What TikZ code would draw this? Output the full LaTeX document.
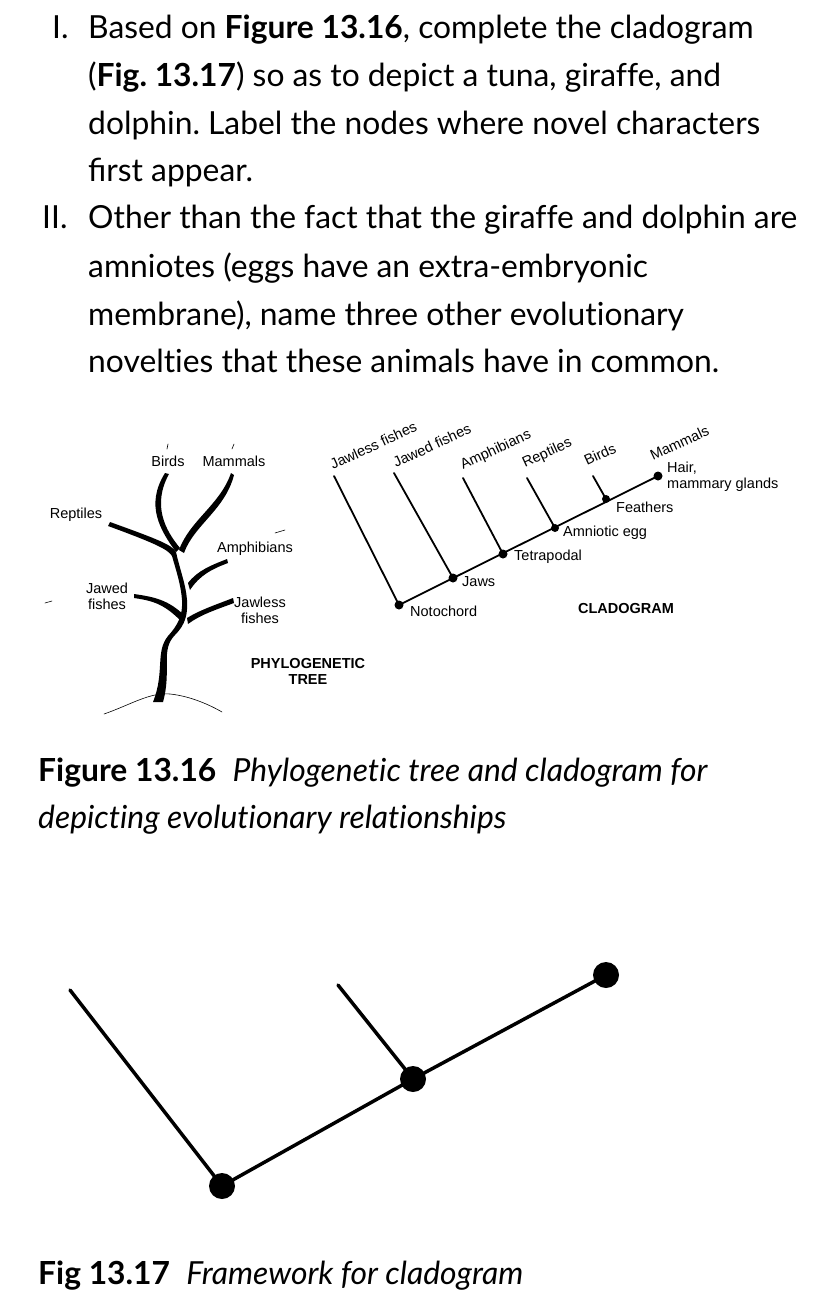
\documentclass[tikz,border=0pt]{standalone}
\usepackage{fontspec}
\setmainfont{Lato}[RawFeature={-liga}]
\newfontfamily\arial{Liberation Sans}
\frenchspacing
\begin{document}
\begin{tikzpicture}[x=1pt,y=-1pt,
  body/.style={anchor=base west,inner sep=0pt,font=\fontsize{31.8}{36}\selectfont},
  lab/.style={inner sep=0pt,font=\arial\fontsize{14.5}{16}\selectfont,align=center},
  rlab/.style={lab,anchor=base west,rotate=25},
  branch/.style={line width=1.8pt,line cap=round},
  dot/.style={circle,fill=black,inner sep=0pt,minimum size=#1},
  fwline/.style={line width=3.5pt,line cap=round},
  bark/.style={line cap=round,line join=round}]
\useasboundingbox (0,0) rectangle (813,1293);
% question text
\node[body] (n1) at (52,38) {I.};
\node[body] (t1) at (88,38) {Based on \textbf{Figure 13.16}, complete the cladogram};
\node[body] (t2) at (88,86) {(\textbf{Fig. 13.17}) so as to depict a tuna, giraffe, and};
\node[body] (t3) at (88,134) {dolphin. Label the nodes where novel characters};
\node[body] (t4) at (88,181) {{\addfontfeatures{RawFeature=+liga}fi}rst appear.};
\node[body] (n2) at (42,228) {II.};
\node[body] (t5) at (88,228) {Other than the fact that the giraffe and dolphin are};
\node[body] (t6) at (88,277) {amniotes (eggs have an extra-embryonic};
\node[body] (t7) at (88,325) {membrane), name three other evolutionary};
\node[body] (t8) at (88,372) {novelties that these animals have in common.};
% phylogenetic tree
\begin{scope}[bark]
\fill (163,702) .. controls (172,670) and (160,650) .. (175,635) .. controls (185,625) and (188,615) .. (187,600)
  .. controls (186,585) and (180,570) .. (176,552) .. controls (172,545) and (160,540) .. (110,522)
  -- (108,526) .. controls (160,545) and (168,550) .. (172,556) .. controls (176,570) and (181,585) .. (182,600)
  .. controls (183,615) and (178,625) .. (168,636) .. controls (155,652) and (165,672) .. (153,702) -- cycle;
\fill (176,552) .. controls (160,530) and (145,505) .. (165,473) -- (169,474) .. controls (152,505) and (165,530) .. (180,548) -- cycle;
\fill (179,550) .. controls (190,520) and (220,505) .. (231,473) -- (234,475) .. controls (225,510) and (194,525) .. (184,553) -- cycle;
\fill (188,583) .. controls (198,570) and (212,565) .. (227,559) -- (228,563) .. controls (212,569) and (200,575) .. (190,590) -- cycle;
\fill (184,615) .. controls (168,600) and (155,597) .. (134,594) -- (134,598) .. controls (155,601) and (165,605) .. (182,622) -- cycle;
\fill (187,618) .. controls (200,610) and (215,605) .. (233,598) -- (234,603) .. controls (215,610) and (200,615) .. (188,624) -- cycle;
\draw[line width=0.6pt] (104,714) .. controls (130,705) and (150,692) .. (170,694) .. controls (190,696) and (210,705) .. (222,712);
\draw[line width=0.6pt] (168,444) -- (167,449) (234,444) -- (232,449) (275,533) -- (285,530) (45,603) -- (52,601);
\end{scope}
\node[lab] (tbirds) at (168,461) {Birds};
\node[lab] (tmam) at (234,461) {Mammals};
\node[lab] (trep) at (76,515) {Reptiles};
\node[lab] (tamph) at (255,549) {Amphibians};
\node[lab] (tjawed) at (107,596) {Jawed\\fishes};
\node[lab] (tjawless) at (260,610) {Jawless\\fishes};
\node[lab,font=\arial\bfseries\fontsize{14.5}{16}\selectfont] (tphy) at (308,671) {PHYLOGENETIC\\TREE};
% cladogram
\node[dot=9pt] (c1) at (399,605) {};
\node[dot=9pt] (c2) at (453,578) {};
\node[dot=9pt] (c3) at (503,554) {};
\node[dot=8pt] (c4) at (555,528) {};
\node[dot=8pt] (c5) at (606,499) {};
\node[dot=9pt] (c6) at (658,476) {};
\coordinate (e1) at (334,476);
\coordinate (e2) at (394,473);
\coordinate (e3) at (463,478);
\coordinate (e4) at (527,478);
\coordinate (e5) at (593,476);
\draw[branch] (c1.center) -- (c6.center);
\draw[branch] (e1) -- (c1.center);
\draw[branch] (e2) -- (c2.center);
\draw[branch] (e3) -- (c3.center);
\draw[branch] (e4) -- (c4.center);
\draw[branch] (e5) -- (c5.center);
\node[rlab] (l1) at (333,470) {Jawless fishes};
\node[rlab] (l2) at (396,468) {Jawed fishes};
\node[rlab] (l3) at (463,470) {Amphibians};
\node[rlab] (l4) at (525,468) {Reptiles};
\node[rlab] (l5) at (587,466) {Birds};
\node[rlab] (l6) at (653,461) {Mammals};
\node[lab,anchor=west] (k1) at (410,611) {Notochord};
\node[lab,anchor=west] (k2) at (462,582) {Jaws};
\node[lab,anchor=west] (k3) at (514,557) {Tetrapodal};
\node[lab,anchor=west] (k4) at (563,533) {Amniotic egg};
\node[lab,anchor=west] (k5) at (616,507) {Feathers};
\node[lab,anchor=north west,align=left] (k6) at (667,462) {Hair,\\mammary glands};
\node[lab,font=\arial\bfseries\fontsize{14.5}{16}\selectfont] (tclad) at (626,609) {CLADOGRAM};
% caption 13.16
\node[body] (cap1) at (38,781) {\textbf{Figure 13.16} \ \textit{Phylogenetic tree and cladogram for}};
\node[body] (cap2) at (38,828) {\textit{depicting evolutionary relationships}};
% framework
\node[dot=26pt] (f1) at (222,1186) {};
\node[dot=26pt] (f2) at (413,1079) {};
\node[dot=26pt] (f3) at (606,975) {};
\coordinate (g1) at (70,990);
\coordinate (g2) at (338,985);
\draw[fwline] (f1.center) -- (f2.center) -- (f3.center);
\draw[fwline] (g1) -- (f1.center);
\draw[fwline] (g2) -- (f2.center);
\node[body] (cap3) at (38,1284) {\textbf{Fig 13.17} \ \textit{Framework for cladogram}};
\end{tikzpicture}
\end{document}
